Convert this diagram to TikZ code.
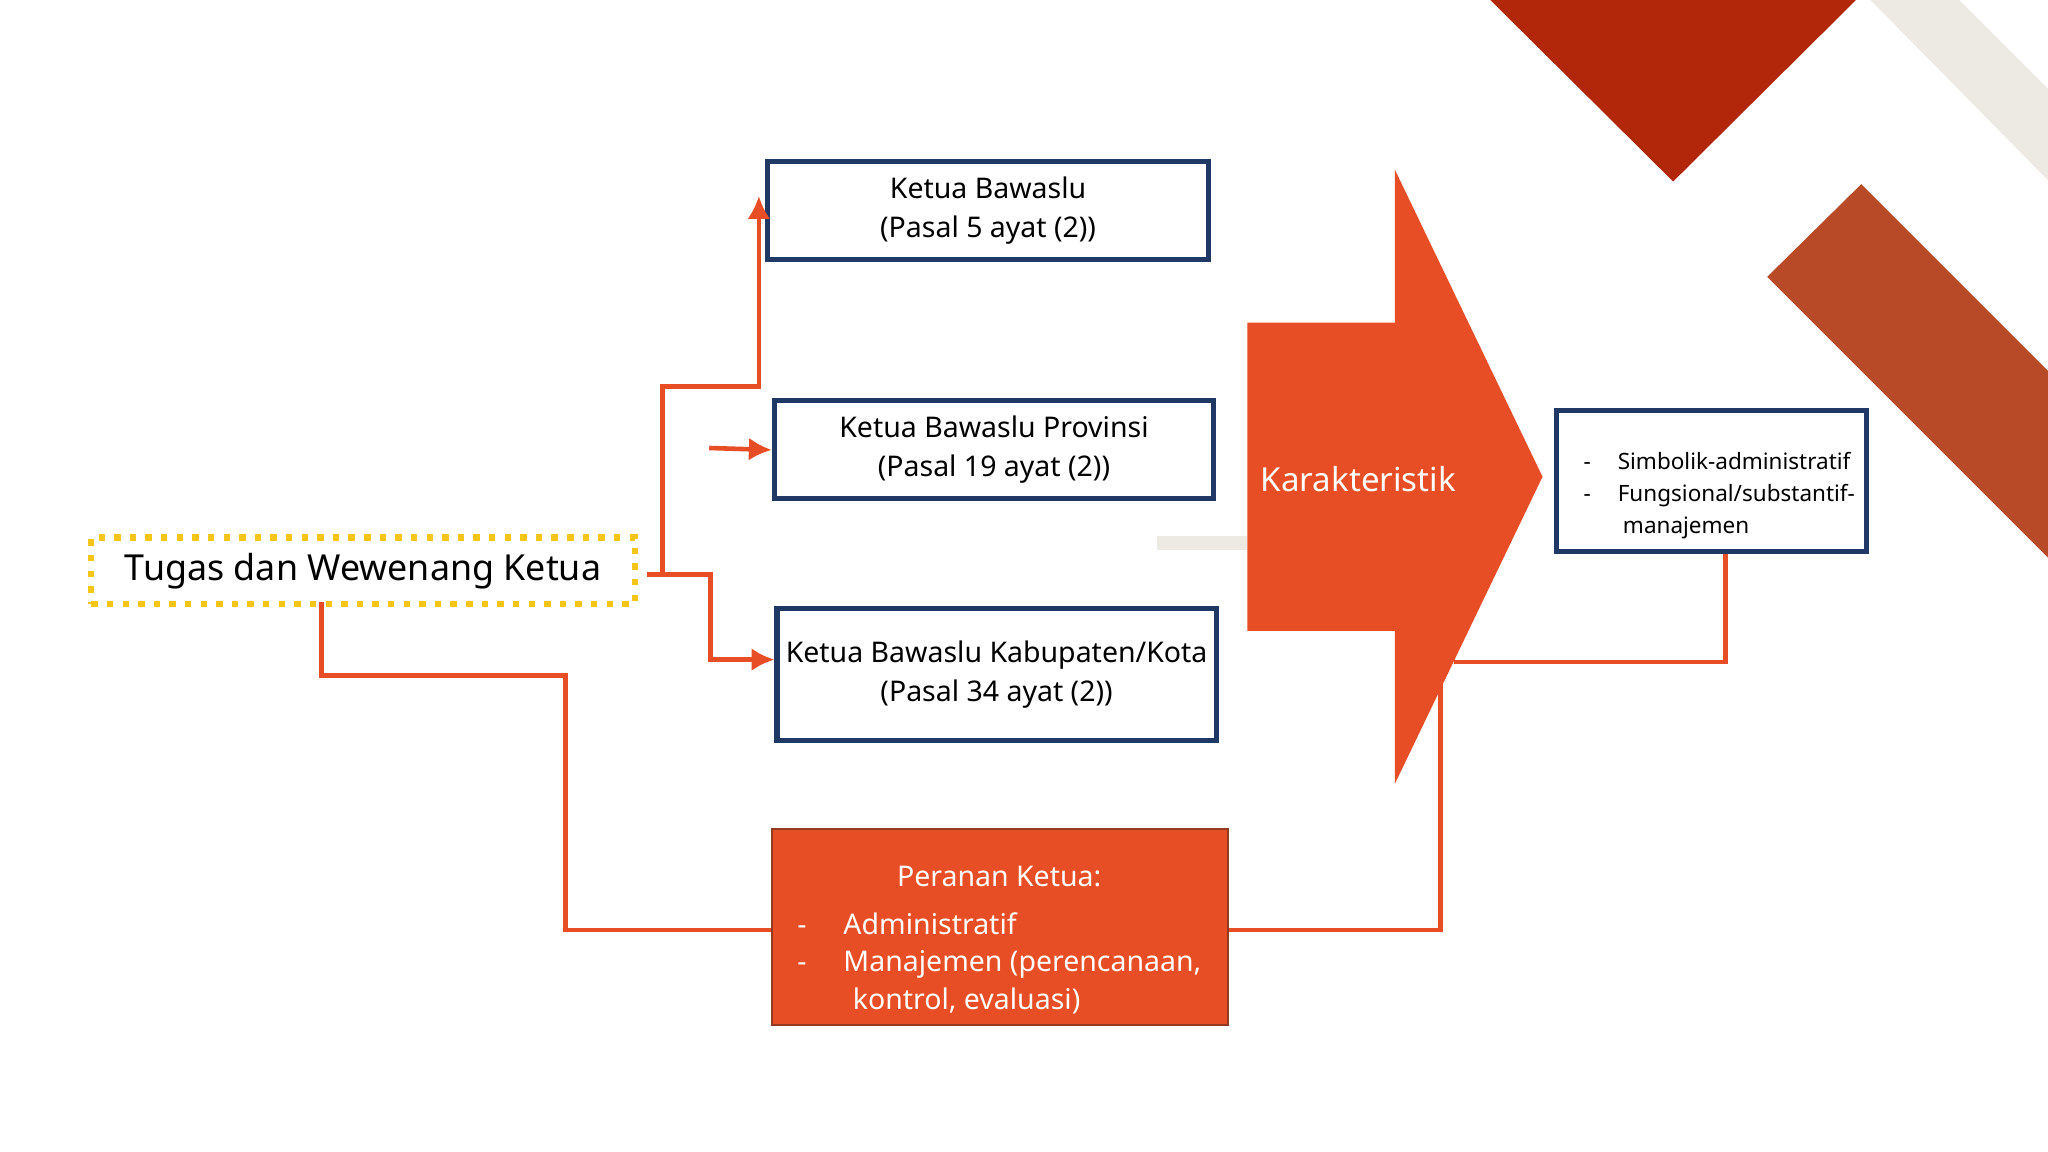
\documentclass[tikz,border=0pt]{standalone}
\usepackage{fontspec}
\setmainfont{Noto Sans}
\definecolor{org}{HTML}{E84E25}
\definecolor{navy}{HTML}{1F3864}
\definecolor{dred}{HTML}{B2260A}
\definecolor{brn}{HTML}{B84A28}
\definecolor{beige}{HTML}{ECEAE2}
\definecolor{ylw}{HTML}{F5C518}
\tikzset{
  box/.style={draw=navy,line width=1.1pt,fill=white,inner sep=0pt,align=center,font=\fontsize{6.2}{8.5}\selectfont\bfseries},
  conn/.style={draw=org,line width=1pt},
  arr/.style={conn,-{Latex[length=5pt,width=5pt]}}
}
\usetikzlibrary{arrows.meta}
\begin{document}
\begin{tikzpicture}[x=0.01cm,y=-0.01cm]
\useasboundingbox (0,0) rectangle (1568,882);
\fill[white] (0,0) rectangle (1568,882);
% decorations
\fill[dred] (1141,0) -- (1421,0) -- (1281,139) -- cycle;
\fill[beige] (1432,0) -- (1500,0) -- (1568,68) -- (1568,138) -- cycle;
\fill[brn] (1353,212) -- (1425,141) -- (1568,284) -- (1568,427) -- cycle;
\fill[beige] (886,410) rectangle (955,421);
% big arrow
\fill[org] (955,247) -- (1068,247) -- (1068,130) -- (1181,365) -- (1068,600) -- (1068,483) -- (955,483) -- cycle;
\node[text=white,font=\fontsize{7.2}{9}\selectfont] (kar) at (1040,367) {Karakteristik};
% boxes
\node[box,minimum width=3.37cm,minimum height=0.75cm] (b1) at (756.5,161.5) {Ketua Bawaslu\\(Pasal 5 ayat (2))};
\node[box,minimum width=3.36cm,minimum height=0.75cm] (b2) at (761,344.5) {Ketua Bawaslu Provinsi\\(Pasal 19 ayat (2))};
\node[box,minimum width=3.36cm,minimum height=1.01cm] (b3) at (763,516.5) {Ketua Bawaslu Kabupaten/Kota\\(Pasal 34 ayat (2))};
\node[draw=navy,line width=1.1pt,fill=white,minimum width=2.37cm,minimum height=1.08cm,inner sep=0pt] (rb) at (1310.5,368) {};
\node[anchor=north west,align=left,font=\fontsize{4.9}{6.9}\selectfont] (rbt) at (1200,334) {-\hspace{1.2em}Simbolik-administratif\\-\hspace{1.2em}Fungsional/substantif-\\\hspace{1.75em}manajemen};
\node[draw=brn!80!black,fill=org,minimum width=3.49cm,minimum height=1.5cm,inner sep=0pt] (pk) at (765.5,710) {};
\node[text=white,font=\fontsize{6.2}{8}\selectfont\bfseries] (pkt) at (765,671) {Peranan Ketua:};
\node[anchor=north west,text=white,align=left,font=\fontsize{6.2}{8.2}\selectfont] (pkl) at (598,686) {-\hspace{1.3em}Administratif\\-\hspace{1.3em}Manajemen (perencanaan,\\\hspace{1.95em}kontrol, evaluasi)};
\node[draw=ylw,dotted,line width=1.4pt,minimum width=4.16cm,minimum height=0.48cm,font=\fontsize{7.8}{9}\selectfont] (tg) at (278,437) {Tugas dan Wewenang Ketua};
% connectors
\coordinate (j) at (507,440);
\draw[conn] (495,440) -- (j);
\draw[arr] (j) -- (507,296) -- (581,296) -- (581,150);
\draw[arr] (543,343) -- (b2.west);
\draw[arr] (j) -- (544,440) -- (544,505) -- (b3.west |- 0,505);
\draw[conn] (246,461) -- (246,517) -- (433,517) -- (433,712) -- (pk.west |- 0,712);
\draw[conn] (pk.east |- 0,712) -- (1103,712) -- (1103,522);
\draw[conn] (1113,507) -- (1321,507) -- (rb.south -| 1321,0);
\end{tikzpicture}
\end{document}
